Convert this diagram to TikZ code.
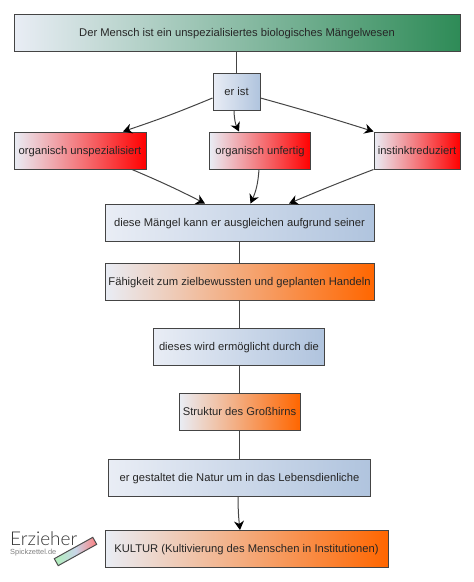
\documentclass[tikz,border=0pt]{standalone}
\usepackage{fontspec}
\setmainfont{Liberation Sans}
\newfontfamily\logofont{Lato Light}
\usetikzlibrary{arrows.meta}
\definecolor{palestart}{HTML}{E9EDF5}
\definecolor{steelend}{HTML}{B0C4DE}
\definecolor{greenend}{HTML}{2E8B57}
\definecolor{orangeend}{HTML}{FF6600}
\definecolor{edgegray}{HTML}{444444}
\begin{document}
\begin{tikzpicture}[
  x=1pt, y=-1pt,
  every node/.style={font=\fontsize{11.2}{13}\selectfont, text=black!85},
  flowbox/.style={draw=edgegray, line width=1pt, minimum height=37pt, inner sep=0pt, text height=10pt, text depth=2.5pt, anchor=center},
  bluebox/.style={flowbox, left color=palestart, right color=steelend},
  redbox/.style={flowbox, left color=palestart, right color=red},
  orangebox/.style={flowbox, left color=palestart, right color=orangeend},
  greenbox/.style={flowbox, left color=palestart, right color=greenend},
  link/.style={draw=edgegray, line width=1pt},
  flow/.style={link, -{Stealth[length=9pt, width=10pt, black]}}
]
\useasboundingbox (0,0) rectangle (474,582);
\node[greenbox, minimum width=446pt] (mensch) at (237,33) {Der Mensch ist ein unspezialisiertes biologisches Mängelwesen};
\node[bluebox, minimum width=47pt] (erist) at (236.5,91.5) {er ist};
\node[redbox, minimum width=132pt] (unspez) at (80,150.5) {organisch unspezialisiert};
\node[redbox, minimum width=101pt] (unfertig) at (260,150.5) {organisch unfertig};
\node[redbox, minimum width=86pt] (instinkt) at (417,150.5) {instinktreduziert};
\node[bluebox, minimum width=269pt] (maengel) at (239.5,222.5) {diese Mängel kann er ausgleichen aufgrund seiner};
\node[orangebox, minimum width=269pt] (faehig) at (239.5,281.5) {Fähigkeit zum zielbewussten und geplanten Handeln};
\node[bluebox, minimum width=171pt] (durch) at (239,346.5) {dieses wird ermöglicht durch die};
\node[orangebox, minimum width=121pt] (hirn) at (239.5,412) {Struktur des Großhirns};
\node[bluebox, minimum width=262pt] (natur) at (239.5,477.5) {er gestaltet die Natur um in das Lebensdienliche};
\node[orangebox, minimum width=283pt] (kultur) at (246.5,549) {KULTUR (Kultivierung des Menschen in Institutionen)};
% verbindungen
\draw[link] (mensch.south -| erist.north) -- (erist.north);
\draw[flow] (erist.west |- 0,98) to[bend left=2] (unspez.north -| 123,0);
\draw[flow] (erist.south -| 234,0) to[bend right=12] (unfertig.north -| 239,0);
\draw[flow] (erist.east |- 0,98) to[bend left=1] (instinkt.north west);
\draw[flow] (unspez.south -| 132,0) to[bend left=2] (maengel.north -| 205,0);
\draw[flow] (unfertig.south -| 259,0) to[bend left=10] (maengel.north -| 250.5,0);
\draw[flow] (instinkt.south west) to[bend right=1] (maengel.north -| 289,0);
\foreach \a/\b in {maengel/faehig,faehig/durch,durch/hirn,hirn/natur}{
  \draw[link] (\a.south -| 239.5,0) -- (\b.north -| 239.5,0);
}
\draw[flow] (natur.south -| 238,0) to[bend right=3] (kultur.north -| 240,0);
% logo
\node[font=\logofont\fontsize{19}{20}\selectfont, text=black!80, inner sep=0pt, anchor=west] (erzieher) at (10,539) {Erzieher};
\node[font=\fontsize{7.4}{8}\selectfont, text=black!50, inner sep=0pt, anchor=west] (spick) at (10,552.5) {Spickzettel.de};
\node[draw=black!70, line width=1pt, minimum width=44pt, minimum height=8pt, inner sep=0pt, left color=green!25!palestart, right color=red!50, middle color=steelend!70, rotate=29] (stift) at (75.5,551.5) {};
\end{tikzpicture}
\end{document}
